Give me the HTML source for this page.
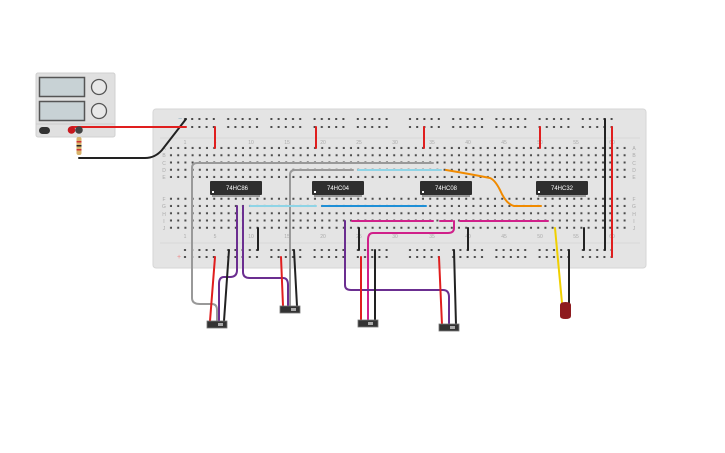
<!DOCTYPE html>
<html><head><style>
html,body{margin:0;padding:0;background:#fff;}
svg{display:block;font-family:"Liberation Sans",sans-serif;}
</style></head><body>
<svg width="725" height="453" viewBox="0 0 725 453" xmlns="http://www.w3.org/2000/svg">
<defs>
<pattern id="th" x="169.6" y="146.6" width="7.2" height="7.25" patternUnits="userSpaceOnUse"><rect x="0.4" y="0.4" width="2" height="2" fill="#4a4a4a"/></pattern>
<g id="grp"><rect x="0.4" y="0" width="2" height="2" fill="#4a4a4a"/><rect x="7.6" y="0" width="2" height="2" fill="#4a4a4a"/><rect x="14.8" y="0" width="2" height="2" fill="#4a4a4a"/><rect x="22" y="0" width="2" height="2" fill="#4a4a4a"/><rect x="29.2" y="0" width="2" height="2" fill="#4a4a4a"/></g>
<pattern id="rlt" x="183.6" y="118" width="43.2" height="8" patternUnits="userSpaceOnUse"><use href="#grp"/></pattern>
<pattern id="rrt" x="408.6" y="118" width="43.2" height="8" patternUnits="userSpaceOnUse"><use href="#grp"/></pattern>
<pattern id="rlb" x="183.6" y="249" width="43.2" height="7" patternUnits="userSpaceOnUse"><use href="#grp"/></pattern>
<pattern id="rrb" x="408.6" y="249" width="43.2" height="7" patternUnits="userSpaceOnUse"><use href="#grp"/></pattern>
</defs>
<!-- breadboard -->
<rect x="153" y="109" width="493" height="159" rx="3" fill="#e4e4e4" stroke="#d6d6d6"/>
<line x1="160" y1="138" x2="640" y2="138" stroke="#d8d8d8"/>
<line x1="160" y1="243" x2="640" y2="243" stroke="#d8d8d8"/>
<rect x="169" y="146" width="459" height="34" fill="url(#th)"/>
<rect x="169" y="197" width="459" height="34" fill="url(#th)"/>
<rect x="183" y="118" width="216" height="11" fill="url(#rlt)"/>
<rect x="408" y="118" width="216" height="11" fill="url(#rrt)"/>
<rect x="183" y="249" width="216" height="10" fill="url(#rlb)"/>
<rect x="408" y="249" width="216" height="10" fill="url(#rrb)"/>
<g font-size="5" fill="#aaa" text-anchor="middle">
<text x="185" y="144">1</text><text x="215" y="144">5</text><text x="251" y="144">10</text><text x="287" y="144">15</text><text x="323" y="144">20</text><text x="359" y="144">25</text><text x="395" y="144">30</text><text x="432" y="144">35</text><text x="468" y="144">40</text><text x="504" y="144">45</text><text x="540" y="144">50</text><text x="576" y="144">55</text><text x="612" y="144">60</text>
<text x="185" y="238">1</text><text x="215" y="238">5</text><text x="251" y="238">10</text><text x="287" y="238">15</text><text x="323" y="238">20</text><text x="359" y="238">25</text><text x="395" y="238">30</text><text x="432" y="238">35</text><text x="468" y="238">40</text><text x="504" y="238">45</text><text x="540" y="238">50</text><text x="576" y="238">55</text><text x="612" y="238">60</text>
<text x="164" y="150">A</text><text x="164" y="157">B</text><text x="164" y="165">C</text><text x="164" y="172">D</text><text x="164" y="179">E</text>
<text x="164" y="201">F</text><text x="164" y="208">G</text><text x="164" y="216">H</text><text x="164" y="223">I</text><text x="164" y="230">J</text>
<text x="634" y="150">A</text><text x="634" y="157">B</text><text x="634" y="165">C</text><text x="634" y="172">D</text><text x="634" y="179">E</text>
<text x="634" y="201">F</text><text x="634" y="208">G</text><text x="634" y="216">H</text><text x="634" y="223">I</text><text x="634" y="230">J</text>
</g>
<text x="178" y="121" font-size="7" fill="#8ab">−</text><text x="177" y="259" font-size="7" fill="#e88">+</text>
<!-- chips -->
<g font-size="6" fill="#fff" text-anchor="middle">
<g><rect x="210" y="181" width="52" height="14" rx="1" fill="#2e2e2e"/><rect x="212" y="195" width="48" height="2" fill="#999"/><text x="237" y="190">74HC86</text><rect x="212" y="191" width="2" height="2" fill="#fff"/></g>
<g><rect x="312" y="181" width="52" height="14" rx="1" fill="#2e2e2e"/><rect x="314" y="195" width="48" height="2" fill="#999"/><text x="338" y="190">74HC04</text><rect x="314" y="191" width="2" height="2" fill="#fff"/></g>
<g><rect x="420" y="181" width="52" height="14" rx="1" fill="#2e2e2e"/><rect x="422" y="195" width="48" height="2" fill="#999"/><text x="446" y="190">74HC08</text><rect x="422" y="191" width="2" height="2" fill="#fff"/></g>
<g><rect x="536" y="181" width="52" height="14" rx="1" fill="#2e2e2e"/><rect x="538" y="195" width="48" height="2" fill="#999"/><text x="562" y="190">74HC32</text><rect x="538" y="191" width="2" height="2" fill="#fff"/></g>
</g>
<!-- power supply -->
<rect x="36" y="73" width="79" height="64" rx="2" fill="#e0e0e0" stroke="#d0d0d0"/>
<rect x="39.5" y="77.5" width="45" height="19" fill="#c8d2d5" stroke="#555" stroke-width="1.5"/>
<rect x="39.5" y="101.5" width="45" height="19" fill="#c8d2d5" stroke="#555" stroke-width="1.5"/>
<circle cx="99" cy="87" r="7.5" fill="#e8e8e8" stroke="#555" stroke-width="1.3"/>
<circle cx="99" cy="111" r="7.5" fill="#e8e8e8" stroke="#555" stroke-width="1.3"/>
<line x1="36" y1="124" x2="115" y2="124" stroke="#ccc"/>
<rect x="39" y="127" width="11" height="7" rx="3.5" fill="#333"/>
<!-- wires -->
<g fill="none" stroke-width="2" stroke-linecap="round">
<path d="M79 158 H145 Q155 158 162 150 L186 119" stroke="#222"/>
<line x1="72" y1="127" x2="186" y2="127" stroke="#e01e1e"/>
<path d="M215 127 V148 M316 127 V148 M424 127 V148 M540 127 V148" stroke="#e01e1e"/>
<line x1="612" y1="127" x2="612" y2="257" stroke="#e01e1e"/>
<line x1="605" y1="119" x2="605" y2="250" stroke="#222"/>
<path d="M258 228 V250 M359 228 V250 M468 228 V250 M584 228 V250" stroke="#222"/>
<path d="M433 163 H197 Q192 163 192 168 V298 Q192 304 200 304 H212 Q217 304 217 310 V321" stroke="#999"/>
<path d="M353 170 H295 Q290 170 290 175 V306" stroke="#999"/>
<path d="M358 170 H441 M250 206 H316" stroke="#8fd4e6"/>
<path d="M322 206 H426" stroke="#1e8fd6"/>
<path d="M446 170 Q470 174 490 178 Q495 180 500 190 Q506 204 514 206 H541" stroke="#f08a00"/>
<path d="M352 221 H433 M440 221 H452 M460 221 H548" stroke="#d0208a"/>
<path d="M454 221 V228 Q454 233 448 233 H373 Q368 233 368 240 V321" stroke="#d0208a"/>
<path d="M237 206 V270 Q237 277 230 277 H224 Q219 277 219 284 V321" stroke="#6b2e90"/>
<path d="M243 206 V272 Q243 278 250 278 H283 Q288 278 288 285 V306" stroke="#6b2e90"/>
<path d="M345 221 V285 Q345 290 351 290 H443 Q449 290 449 297 V325" stroke="#6b2e90"/>
<path d="M215 257 L210 321 M281 257 L283 306 M361 257 V321 M439 257 L442 325" stroke="#e01e1e"/>
<path d="M229 250 L224 321 M294 250 L297 306 M375 250 V321 M454 250 L456 325 M569 250 V303" stroke="#222"/>
<path d="M555 228 L562 303" stroke="#f0d000"/>
</g>
<!-- terminals and resistor -->
<circle cx="71.5" cy="130" r="3.8" fill="#c8181e"/>
<circle cx="79" cy="130" r="3.8" fill="#444"/>
<rect x="76.5" y="137" width="5" height="18" rx="2" fill="#d8b26a"/>
<rect x="76.5" y="141" width="5" height="1.5" fill="#c33"/><rect x="76.5" y="145" width="5" height="1.5" fill="#222"/><rect x="76.5" y="149" width="5" height="1.5" fill="#c33"/>
<!-- switches -->
<g><rect x="207" y="321" width="20" height="7" fill="#333" stroke="#777" stroke-width="0.8"/><rect x="218" y="323" width="5" height="3" fill="#aaa"/></g>
<g><rect x="280" y="306" width="20" height="7" fill="#333" stroke="#777" stroke-width="0.8"/><rect x="291" y="308" width="5" height="3" fill="#aaa"/></g>
<g><rect x="358" y="320" width="20" height="7" fill="#333" stroke="#777" stroke-width="0.8"/><rect x="368" y="322" width="5" height="3" fill="#aaa"/></g>
<g><rect x="439" y="324" width="20" height="7" fill="#333" stroke="#777" stroke-width="0.8"/><rect x="450" y="326" width="5" height="3" fill="#aaa"/></g>
<!-- LED -->
<path d="M560 305 Q560 302 565.5 302 Q571 302 571 305 V316 Q571 319 565.5 319 Q560 319 560 316 Z" fill="#8e1b1f"/>
</svg>
</body></html>
